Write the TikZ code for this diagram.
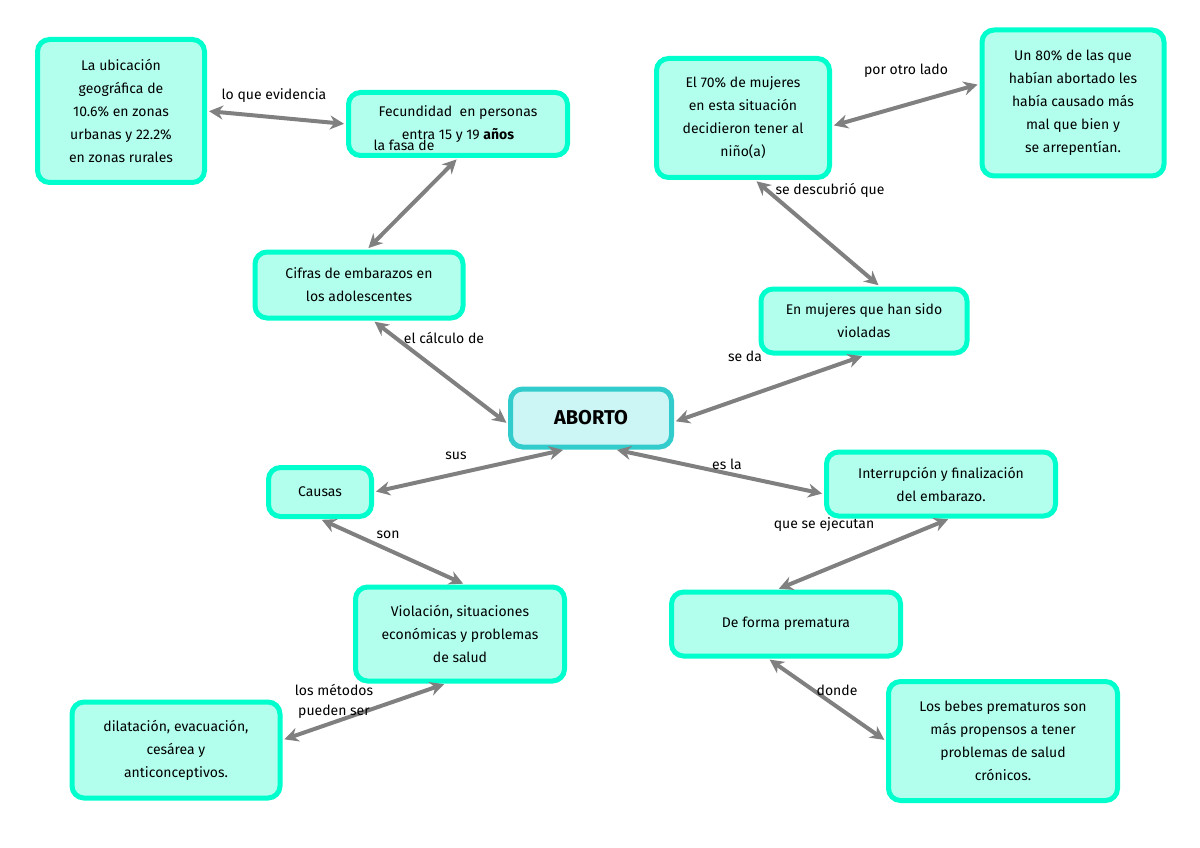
\documentclass[tikz,border=0pt]{standalone}
\usepackage{fontspec}
\setmainfont{Fira Sans}
\usetikzlibrary{arrows.meta}
\definecolor{bd}{RGB}{0,255,204}
\definecolor{fl}{RGB}{179,255,238}
\definecolor{abd}{RGB}{51,204,204}
\definecolor{afl}{RGB}{204,245,245}
\definecolor{ar}{RGB}{128,128,128}
\begin{document}
\begin{tikzpicture}[x=1pt,y=-1pt,
  box/.style={draw=bd,fill=fl,line width=5pt,rounded corners=12pt,align=center,font=\fontsize{14}{23}\selectfont,inner sep=0pt},
  lab/.style={font=\fontsize{14}{20}\selectfont,align=center},
  con/.style={draw=ar,line width=4pt,{Stealth[length=14pt,width=14pt]}-{Stealth[length=14pt,width=14pt]},shorten <=2pt,shorten >=2pt}]
\useasboundingbox (0,0) rectangle (1200,848);
\node[box,minimum width=167pt,minimum height=143pt] (ubic) at (121,111) {La ubicación\\geográfica de\\10.6\% en zonas\\urbanas y 22.2\%\\en zonas rurales};
\node[box,minimum width=219pt,minimum height=63pt] (fec) at (458,124) {Fecundidad\ \ en personas\\entra 15 y 19 \textbf{años}};
\node[box,minimum width=208pt,minimum height=66pt] (cif) at (359,285) {Cifras de embarazos en\\los adolescentes};
\node[box,draw=abd,fill=afl,minimum width=161pt,minimum height=58pt,font=\fontsize{20}{24}\selectfont\bfseries] (abo) at (591,418) {ABORTO};
\node[box,minimum width=103pt,minimum height=49pt] (cau) at (320,492) {Causas};
\node[box,minimum width=209pt,minimum height=94pt] (vio) at (460,634) {Violación, situaciones\\económicas y problemas\\de salud};
\node[box,minimum width=208pt,minimum height=96pt] (dil) at (176,750) {dilatación, evacuación,\\cesárea y\\anticonceptivos.};
\node[box,minimum width=173pt,minimum height=119pt] (e70) at (743,118) {El 70\% de mujeres\\en esta situación\\decidieron tener al\\niño(a)};
\node[box,minimum width=182pt,minimum height=146pt] (u80) at (1073,103) {Un 80\% de las que\\habían abortado les\\había causado más\\mal que bien y\\se arrepentían.};
\node[box,minimum width=206pt,minimum height=64pt] (muj) at (864,321) {En mujeres que han sido\\violadas};
\node[box,minimum width=229pt,minimum height=64pt] (int) at (941,484) {Interrupción y finalización\\del embarazo.};
\node[box,minimum width=229pt,minimum height=64pt] (pre) at (786,624) {De forma prematura};
\node[box,minimum width=229pt,minimum height=119pt] (beb) at (1003,741) {Los bebes prematuros son\\más propensos a tener\\problemas de salud\\crónicos.};
\draw[con] (ubic.east) -- (fec.west);
\draw[con] (fec.south) -- ([xshift=8pt]cif.north);
\draw[con] ([xshift=14pt]cif.south) -- ([yshift=-6pt]abo.west);
\draw[con] (muj.south) -- ([yshift=-4pt]abo.east);
\draw[con] ([xshift=12pt]e70.south) -- ([xshift=16pt]muj.north);
\draw[con] ([yshift=-8pt]e70.east) -- ([yshift=19pt]u80.west);
\draw[con] ([xshift=-26pt]abo.south) -- (cau.east);
\draw[con] ([xshift=24pt]abo.south) -- ([yshift=-10pt]int.west);
\draw[con] (cau.south) -- ([xshift=5pt]vio.north);
\draw[con] ([xshift=9pt]int.south) -- ([xshift=-9pt]pre.north);
\draw[con] ([xshift=-14pt]vio.south) -- ([yshift=10pt]dil.east);
\draw[con] ([xshift=-18pt]pre.south) -- (beb.west);
\node[lab] (l1) at (274,96) {lo que evidencia};
\node[lab] (l2) at (404,145) {la fasa de};
\node[lab] (l3) at (444,338) {el cálculo de};
\node[lab] (l4) at (745,356) {se da};
\node[lab] (l5) at (830,190) {se descubrió que};
\node[lab] (l6) at (906,71) {por otro lado};
\node[lab] (l7) at (456,456) {sus};
\node[lab] (l8) at (727,464) {es la};
\node[lab] (l9) at (388,535) {son};
\node[lab] (l10) at (824,525) {que se ejecutan};
\node[lab] (l11) at (334,701) {los métodos\\pueden ser};
\node[lab] (l12) at (837,690) {donde};
\end{tikzpicture}
\end{document}
